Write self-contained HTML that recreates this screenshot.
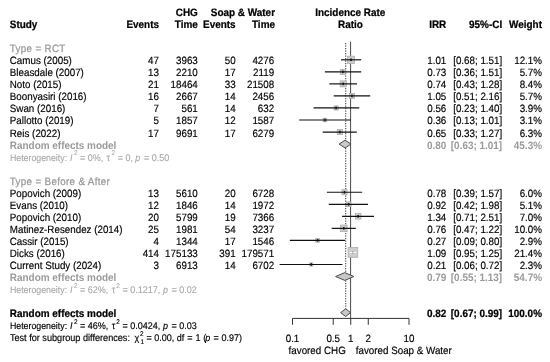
<!DOCTYPE html>
<html><head><meta charset="utf-8"><style>
html,body{margin:0;padding:0;background:#fff;}
body{width:550px;height:362px;overflow:hidden;}
svg{display:block;}
text{text-rendering:geometricPrecision;font-family:"Liberation Sans",Arial,sans-serif;font-size:9.8px;fill:#000;stroke:#000;stroke-width:0.15px;}
.b{font-weight:bold;font-size:9.95px;stroke-width:0.22px;}
.g{fill:#9a9a9a;stroke:#9a9a9a;stroke-width:0.25px;letter-spacing:0.33px;}
.gb{fill:#9a9a9a;stroke:#9a9a9a;stroke-width:0.0px;font-weight:bold;font-size:9.95px;}
.h{font-size:9.0px;}
.hg{font-size:9.0px;fill:#a8a8a8;stroke:#a8a8a8;stroke-width:0.1px;}
</style></head><body>
<svg width="550" height="362" viewBox="0 0 550 362">
<rect width="550" height="362" fill="#fff"/>
<line x1="350.60" y1="41.6" x2="350.60" y2="318.40" stroke="#4a4a4a" stroke-width="1"/>
<line x1="345.73" y1="43" x2="345.73" y2="308.64" stroke="#333" stroke-width="1" stroke-dasharray="1.25,1.25"/>
<rect x="347.35" y="56.15" width="7.30" height="7.30" fill="#cdcdcd" stroke="#a8a8a8" stroke-width="0.7"/>
<line x1="340.99" y1="59.80" x2="361.18" y2="59.80" stroke="#111" stroke-width="1.2"/>
<rect x="350.25" y="58.50" width="1.5" height="2.6" fill="#111"/>
<rect x="340.28" y="69.33" width="5.01" height="5.01" fill="#cdcdcd" stroke="#a8a8a8" stroke-width="0.7"/>
<line x1="324.90" y1="71.84" x2="361.18" y2="71.84" stroke="#111" stroke-width="1.2"/>
<rect x="342.04" y="70.54" width="1.5" height="2.6" fill="#111"/>
<rect x="340.09" y="80.84" width="6.09" height="6.09" fill="#cdcdcd" stroke="#a8a8a8" stroke-width="0.7"/>
<line x1="329.40" y1="83.88" x2="356.99" y2="83.88" stroke="#111" stroke-width="1.2"/>
<rect x="342.38" y="82.58" width="1.5" height="2.6" fill="#111"/>
<rect x="349.48" y="93.41" width="5.01" height="5.01" fill="#cdcdcd" stroke="#a8a8a8" stroke-width="0.7"/>
<line x1="333.72" y1="95.92" x2="370.23" y2="95.92" stroke="#111" stroke-width="1.2"/>
<rect x="351.23" y="94.62" width="1.5" height="2.6" fill="#111"/>
<rect x="334.01" y="105.89" width="4.15" height="4.15" fill="#cdcdcd" stroke="#a8a8a8" stroke-width="0.7"/>
<line x1="313.57" y1="107.96" x2="359.26" y2="107.96" stroke="#111" stroke-width="1.2"/>
<rect x="335.33" y="106.66" width="1.5" height="2.6" fill="#111"/>
<rect x="323.06" y="118.15" width="3.70" height="3.70" fill="#cdcdcd" stroke="#a8a8a8" stroke-width="0.7"/>
<line x1="299.14" y1="120.00" x2="351.00" y2="120.00" stroke="#111" stroke-width="1.2"/>
<rect x="324.15" y="118.70" width="1.5" height="2.6" fill="#111"/>
<rect x="337.22" y="129.40" width="5.27" height="5.27" fill="#cdcdcd" stroke="#a8a8a8" stroke-width="0.7"/>
<line x1="322.70" y1="132.04" x2="356.80" y2="132.04" stroke="#111" stroke-width="1.2"/>
<rect x="339.10" y="130.74" width="1.5" height="2.6" fill="#111"/>
<rect x="341.89" y="189.67" width="5.14" height="5.14" fill="#cdcdcd" stroke="#a8a8a8" stroke-width="0.7"/>
<line x1="326.93" y1="192.24" x2="362.16" y2="192.24" stroke="#111" stroke-width="1.2"/>
<rect x="343.71" y="190.94" width="1.5" height="2.6" fill="#111"/>
<rect x="346.27" y="201.91" width="4.74" height="4.74" fill="#cdcdcd" stroke="#a8a8a8" stroke-width="0.7"/>
<line x1="328.80" y1="204.28" x2="368.03" y2="204.28" stroke="#111" stroke-width="1.2"/>
<rect x="347.89" y="202.98" width="1.5" height="2.6" fill="#111"/>
<rect x="355.38" y="213.54" width="5.56" height="5.56" fill="#cdcdcd" stroke="#a8a8a8" stroke-width="0.7"/>
<line x1="342.09" y1="216.32" x2="374.03" y2="216.32" stroke="#111" stroke-width="1.2"/>
<rect x="357.40" y="215.02" width="1.5" height="2.6" fill="#111"/>
<rect x="340.49" y="225.04" width="6.64" height="6.64" fill="#cdcdcd" stroke="#a8a8a8" stroke-width="0.7"/>
<line x1="331.65" y1="228.36" x2="355.78" y2="228.36" stroke="#111" stroke-width="1.2"/>
<rect x="343.06" y="227.06" width="1.5" height="2.6" fill="#111"/>
<rect x="315.84" y="238.61" width="3.58" height="3.58" fill="#cdcdcd" stroke="#a8a8a8" stroke-width="0.7"/>
<line x1="289.83" y1="240.40" x2="345.10" y2="240.40" stroke="#111" stroke-width="1.2"/>
<rect x="316.88" y="239.10" width="1.5" height="2.6" fill="#111"/>
<rect x="348.07" y="247.58" width="9.71" height="9.71" fill="#cdcdcd" stroke="#a8a8a8" stroke-width="0.7"/>
<line x1="349.45" y1="252.44" x2="356.40" y2="252.44" stroke="#fff" stroke-width="1"/>
<rect x="352.43" y="250.94" width="1" height="3" fill="#a0a0a0"/>
<rect x="309.68" y="262.89" width="3.18" height="3.18" fill="#cdcdcd" stroke="#a8a8a8" stroke-width="0.7"/>
<line x1="279.58" y1="264.48" x2="342.44" y2="264.48" stroke="#111" stroke-width="1.2"/>
<rect x="310.52" y="263.18" width="1.5" height="2.6" fill="#111"/>
<polygon points="339.06,144.08 345.10,140.18 351.00,144.08 345.10,147.98" fill="#c8c8c8" stroke="#3a3a3a" stroke-width="0.9"/>
<polygon points="335.63,276.52 344.79,272.62 353.84,276.52 344.79,280.42" fill="#c8c8c8" stroke="#3a3a3a" stroke-width="0.9"/>
<polygon points="340.62,312.64 345.73,308.74 350.50,312.64 345.73,316.54" fill="#c8c8c8" stroke="#3a3a3a" stroke-width="0.9"/>
<line x1="292.50" y1="318.40" x2="409.00" y2="318.40" stroke="#333" stroke-width="1"/>
<line x1="292.50" y1="318.40" x2="292.50" y2="324.80" stroke="#333" stroke-width="1"/>
<line x1="333.22" y1="318.40" x2="333.22" y2="324.80" stroke="#333" stroke-width="1"/>
<line x1="350.75" y1="318.40" x2="350.75" y2="324.80" stroke="#333" stroke-width="1"/>
<line x1="368.28" y1="318.40" x2="368.28" y2="324.80" stroke="#333" stroke-width="1"/>
<line x1="409.00" y1="318.40" x2="409.00" y2="324.80" stroke="#333" stroke-width="1"/>
<g transform="scale(1,1.08)">
<text x="9.80" y="26.019" class="b">Study</text>
<text x="159.00" y="26.019" text-anchor="end" class="b">Events</text>
<text x="197.80" y="14.444" text-anchor="end" class="b">CHG</text>
<text x="197.80" y="26.019" text-anchor="end" class="b">Time</text>
<text x="275.00" y="14.444" text-anchor="end" class="b">Soap &amp; Water</text>
<text x="235.60" y="26.019" text-anchor="end" class="b">Events</text>
<text x="275.00" y="26.019" text-anchor="end" class="b">Time</text>
<text x="350.30" y="14.444" text-anchor="middle" class="b">Incidence Rate</text>
<text x="350.40" y="26.019" text-anchor="middle" class="b">Ratio</text>
<text x="446.30" y="26.019" text-anchor="end" class="b">IRR</text>
<text x="502.20" y="26.019" text-anchor="end" class="b">95%-CI</text>
<text x="542.00" y="26.019" text-anchor="end" class="b">Weight</text>
<text x="9.80" y="48.389" class="g">Type = RCT</text>
<text x="9.80" y="171.019" class="g">Type = Before &amp; After</text>
<text x="9.80" y="59.537">Camus (2005)</text>
<text x="159.00" y="59.537" text-anchor="end">47</text>
<text x="197.80" y="59.537" text-anchor="end">3963</text>
<text x="235.60" y="59.537" text-anchor="end">50</text>
<text x="274.20" y="59.537" text-anchor="end">4276</text>
<text x="446.30" y="59.537" text-anchor="end">1.01</text>
<text x="502.20" y="59.537" text-anchor="end">[0.68; 1.51]</text>
<text x="542.00" y="59.537" text-anchor="end">12.1%</text>
<text x="9.80" y="70.685">Bleasdale (2007)</text>
<text x="159.00" y="70.685" text-anchor="end">13</text>
<text x="197.80" y="70.685" text-anchor="end">2210</text>
<text x="235.60" y="70.685" text-anchor="end">17</text>
<text x="274.20" y="70.685" text-anchor="end">2119</text>
<text x="446.30" y="70.685" text-anchor="end">0.73</text>
<text x="502.20" y="70.685" text-anchor="end">[0.36; 1.51]</text>
<text x="542.00" y="70.685" text-anchor="end">5.7%</text>
<text x="9.80" y="81.833">Noto (2015)</text>
<text x="159.00" y="81.833" text-anchor="end">21</text>
<text x="197.80" y="81.833" text-anchor="end">18464</text>
<text x="235.60" y="81.833" text-anchor="end">33</text>
<text x="274.20" y="81.833" text-anchor="end">21508</text>
<text x="446.30" y="81.833" text-anchor="end">0.74</text>
<text x="502.20" y="81.833" text-anchor="end">[0.43; 1.28]</text>
<text x="542.00" y="81.833" text-anchor="end">8.4%</text>
<text x="9.80" y="92.981">Boonyasiri (2016)</text>
<text x="159.00" y="92.981" text-anchor="end">16</text>
<text x="197.80" y="92.981" text-anchor="end">2667</text>
<text x="235.60" y="92.981" text-anchor="end">14</text>
<text x="274.20" y="92.981" text-anchor="end">2456</text>
<text x="446.30" y="92.981" text-anchor="end">1.05</text>
<text x="502.20" y="92.981" text-anchor="end">[0.51; 2.16]</text>
<text x="542.00" y="92.981" text-anchor="end">5.7%</text>
<text x="9.80" y="104.130">Swan (2016)</text>
<text x="159.00" y="104.130" text-anchor="end">7</text>
<text x="197.80" y="104.130" text-anchor="end">561</text>
<text x="235.60" y="104.130" text-anchor="end">14</text>
<text x="274.20" y="104.130" text-anchor="end">632</text>
<text x="446.30" y="104.130" text-anchor="end">0.56</text>
<text x="502.20" y="104.130" text-anchor="end">[0.23; 1.40]</text>
<text x="542.00" y="104.130" text-anchor="end">3.9%</text>
<text x="9.80" y="115.278">Pallotto (2019)</text>
<text x="159.00" y="115.278" text-anchor="end">5</text>
<text x="197.80" y="115.278" text-anchor="end">1857</text>
<text x="235.60" y="115.278" text-anchor="end">12</text>
<text x="274.20" y="115.278" text-anchor="end">1587</text>
<text x="446.30" y="115.278" text-anchor="end">0.36</text>
<text x="502.20" y="115.278" text-anchor="end">[0.13; 1.01]</text>
<text x="542.00" y="115.278" text-anchor="end">3.1%</text>
<text x="9.80" y="126.426">Reis (2022)</text>
<text x="159.00" y="126.426" text-anchor="end">17</text>
<text x="197.80" y="126.426" text-anchor="end">9691</text>
<text x="235.60" y="126.426" text-anchor="end">17</text>
<text x="274.20" y="126.426" text-anchor="end">6279</text>
<text x="446.30" y="126.426" text-anchor="end">0.65</text>
<text x="502.20" y="126.426" text-anchor="end">[0.33; 1.27]</text>
<text x="542.00" y="126.426" text-anchor="end">6.3%</text>
<text x="9.80" y="182.167">Popovich (2009)</text>
<text x="159.00" y="182.167" text-anchor="end">13</text>
<text x="197.80" y="182.167" text-anchor="end">5610</text>
<text x="235.60" y="182.167" text-anchor="end">20</text>
<text x="274.20" y="182.167" text-anchor="end">6728</text>
<text x="446.30" y="182.167" text-anchor="end">0.78</text>
<text x="502.20" y="182.167" text-anchor="end">[0.39; 1.57]</text>
<text x="542.00" y="182.167" text-anchor="end">6.0%</text>
<text x="9.80" y="193.315">Evans (2010)</text>
<text x="159.00" y="193.315" text-anchor="end">12</text>
<text x="197.80" y="193.315" text-anchor="end">1846</text>
<text x="235.60" y="193.315" text-anchor="end">14</text>
<text x="274.20" y="193.315" text-anchor="end">1972</text>
<text x="446.30" y="193.315" text-anchor="end">0.92</text>
<text x="502.20" y="193.315" text-anchor="end">[0.42; 1.98]</text>
<text x="542.00" y="193.315" text-anchor="end">5.1%</text>
<text x="9.80" y="204.463">Popovich (2010)</text>
<text x="159.00" y="204.463" text-anchor="end">20</text>
<text x="197.80" y="204.463" text-anchor="end">5799</text>
<text x="235.60" y="204.463" text-anchor="end">19</text>
<text x="274.20" y="204.463" text-anchor="end">7366</text>
<text x="446.30" y="204.463" text-anchor="end">1.34</text>
<text x="502.20" y="204.463" text-anchor="end">[0.71; 2.51]</text>
<text x="542.00" y="204.463" text-anchor="end">7.0%</text>
<text x="9.80" y="215.611">Matinez-Resendez (2014)</text>
<text x="159.00" y="215.611" text-anchor="end">25</text>
<text x="197.80" y="215.611" text-anchor="end">1981</text>
<text x="235.60" y="215.611" text-anchor="end">54</text>
<text x="274.20" y="215.611" text-anchor="end">3237</text>
<text x="446.30" y="215.611" text-anchor="end">0.76</text>
<text x="502.20" y="215.611" text-anchor="end">[0.47; 1.22]</text>
<text x="542.00" y="215.611" text-anchor="end">10.0%</text>
<text x="9.80" y="226.759">Cassir (2015)</text>
<text x="159.00" y="226.759" text-anchor="end">4</text>
<text x="197.80" y="226.759" text-anchor="end">1344</text>
<text x="235.60" y="226.759" text-anchor="end">17</text>
<text x="274.20" y="226.759" text-anchor="end">1546</text>
<text x="446.30" y="226.759" text-anchor="end">0.27</text>
<text x="502.20" y="226.759" text-anchor="end">[0.09; 0.80]</text>
<text x="542.00" y="226.759" text-anchor="end">2.9%</text>
<text x="9.80" y="237.907">Dicks (2016)</text>
<text x="159.00" y="237.907" text-anchor="end">414</text>
<text x="197.80" y="237.907" text-anchor="end">175133</text>
<text x="235.60" y="237.907" text-anchor="end">391</text>
<text x="274.20" y="237.907" text-anchor="end">179571</text>
<text x="446.30" y="237.907" text-anchor="end">1.09</text>
<text x="502.20" y="237.907" text-anchor="end">[0.95; 1.25]</text>
<text x="542.00" y="237.907" text-anchor="end">21.4%</text>
<text x="9.80" y="249.056">Current Study (2024)</text>
<text x="159.00" y="249.056" text-anchor="end">3</text>
<text x="197.80" y="249.056" text-anchor="end">6913</text>
<text x="235.60" y="249.056" text-anchor="end">14</text>
<text x="274.20" y="249.056" text-anchor="end">6702</text>
<text x="446.30" y="249.056" text-anchor="end">0.21</text>
<text x="502.20" y="249.056" text-anchor="end">[0.06; 0.72]</text>
<text x="542.00" y="249.056" text-anchor="end">2.3%</text>
<text x="9.80" y="137.574" class="gb">Random effects model</text>
<text x="446.30" y="137.574" text-anchor="end" class="gb">0.80</text>
<text x="502.20" y="137.574" text-anchor="end" class="gb">[0.63; 1.01]</text>
<text x="542.00" y="137.574" text-anchor="end" class="gb">45.3%</text>
<text x="9.80" y="260.204" class="gb">Random effects model</text>
<text x="446.30" y="260.204" text-anchor="end" class="gb">0.79</text>
<text x="502.20" y="260.204" text-anchor="end" class="gb">[0.55; 1.13]</text>
<text x="542.00" y="260.204" text-anchor="end" class="gb">54.7%</text>
<text x="9.80" y="293.648" class="b">Random effects model</text>
<text x="446.30" y="293.648" text-anchor="end" class="b">0.82</text>
<text x="502.20" y="293.648" text-anchor="end" class="b">[0.67; 0.99]</text>
<text x="542.00" y="293.648" text-anchor="end" class="b">100.0%</text>
<text class="hg"><tspan x="9.90" y="148.722" font-size="8.8">Heterogeneity:</tspan><tspan x="70.00" y="148.722" font-style="italic">I</tspan><tspan x="74.00" y="143.815" font-size="6.4">2</tspan><tspan x="80.00" y="148.722">= 0%,</tspan><tspan x="106.60" y="148.722">τ</tspan><tspan x="111.40" y="143.815" font-size="6.4">2</tspan><tspan x="117.70" y="148.722">= 0,</tspan><tspan x="135.22" y="148.722" font-style="italic">p</tspan><tspan x="144.10" y="148.722">= 0.50</tspan></text>
<text class="hg"><tspan x="9.90" y="271.352" font-size="8.8">Heterogeneity:</tspan><tspan x="70.00" y="271.352" font-style="italic">I</tspan><tspan x="74.00" y="266.444" font-size="6.4">2</tspan><tspan x="80.00" y="271.352">= 62%,</tspan><tspan x="111.80" y="271.352">τ</tspan><tspan x="116.20" y="266.444" font-size="6.4">2</tspan><tspan x="122.50" y="271.352">= 0.1217,</tspan><tspan x="162.92" y="271.352" font-style="italic">p</tspan><tspan x="171.40" y="271.352">= 0.02</tspan></text>
<text class="h"><tspan x="9.90" y="304.796" font-size="8.8">Heterogeneity:</tspan><tspan x="70.00" y="304.796" font-style="italic">I</tspan><tspan x="74.00" y="299.889" font-size="6.4">2</tspan><tspan x="80.00" y="304.796">= 46%,</tspan><tspan x="111.80" y="304.796">τ</tspan><tspan x="116.20" y="299.889" font-size="6.4">2</tspan><tspan x="122.50" y="304.796">= 0.0424,</tspan><tspan x="162.92" y="304.796" font-style="italic">p</tspan><tspan x="171.40" y="304.796">= 0.03</tspan></text>
<text class="h"><tspan x="9.90" y="315.944" font-size="9.15">Test for subgroup differences:</tspan><tspan x="134.50" y="315.944">χ</tspan><tspan x="140.00" y="311.037" font-size="6.4">2</tspan><tspan x="140.50" y="318.815" font-size="6.4">1</tspan><tspan x="146.40" y="315.944">= 0.00,</tspan><tspan x="176.80" y="315.944">df</tspan><tspan x="187.30" y="315.944">=</tspan><tspan x="195.50" y="315.944">1</tspan><tspan x="203.20" y="315.944">(</tspan><tspan x="205.22" y="315.944" font-style="italic">p</tspan><tspan x="213.60" y="315.944">=</tspan><tspan x="221.40" y="315.944">0.97)</tspan></text>
<text x="292.50" y="316.759" text-anchor="middle">0.1</text>
<text x="333.22" y="316.759" text-anchor="middle">0.5</text>
<text x="350.75" y="316.759" text-anchor="middle">1</text>
<text x="368.28" y="316.759" text-anchor="middle">2</text>
<text x="409.00" y="316.759" text-anchor="middle">10</text>
<text x="345.75" y="327.963" text-anchor="end">favored CHG</text>
<text x="355.75" y="327.963">favored Soap &amp; Water</text>
</g>
</svg>
</body></html>
